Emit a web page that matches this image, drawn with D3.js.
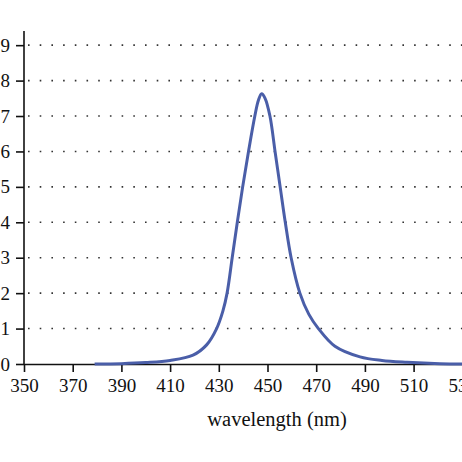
<!DOCTYPE html>
<html>
<head>
<meta charset="utf-8">
<script src="https://cdn.jsdelivr.net/npm/d3@7"></script>
<style>
  body { margin: 0; background: #fff; }
  svg { display: block; }
</style>
</head>
<body>
<div id="viz"></div>
<script>
// spectrum (wavelength in nm, relative intensity)
var wavelength = [379, 390, 400, 410, 419.4, 425, 429.1, 431.7, 433.4, 435.5, 437.6, 439.8, 442.2, 444.8, 446.3, 447.6,
                  449, 451, 453.1, 455.2, 457.3, 459.7, 463.3, 467, 470.9, 477.7, 488, 497, 507.3, 520.8, 531];
var intensity  = [0, 0.001, 0.004, 0.01, 0.025, 0.054, 0.10, 0.15, 0.2, 0.3, 0.4, 0.5, 0.6, 0.7, 0.745, 0.763,
                  0.75, 0.7, 0.6, 0.5, 0.4, 0.3, 0.2, 0.14, 0.1, 0.05, 0.02, 0.01, 0.005, 0.001, 0];

var xTicks = [350, 370, 390, 410, 430, 450, 470, 490, 510, 530];
var yTicks = [0, 0.1, 0.2, 0.3, 0.4, 0.5, 0.6, 0.7, 0.8, 0.9];
var xLabel = 'wavelength (nm)';

var width = 462, height = 462;

var svg = d3.select('#viz').append('svg')
  .attr('width', width)
  .attr('height', height);

// scales
var x = d3.scaleLinear().domain([350, 530]).range([24, 462.3]);
var y = d3.scaleLinear().domain([0, 0.94]).range([364, 31]);

// dotted grid lines
svg.append('g')
  .selectAll('line')
  .data(yTicks.slice(1))
  .enter().append('line')
  .attr('x1', x(350) + 4)
  .attr('x2', width)
  .attr('y1', function(d) { return y(d); })
  .attr('y2', function(d) { return y(d); })
  .attr('stroke', '#333')
  .attr('stroke-width', 1.6)
  .attr('stroke-dasharray', '1.6,10.1');

var font = '"Liberation Serif", "DejaVu Serif", serif';

// y axis
var yAxis = svg.append('g')
  .attr('transform', 'translate(' + x(350) + ',0)')
  .call(d3.axisLeft(y).tickValues(yTicks).tickSize(8).tickPadding(6).tickSizeOuter(0)
    .tickFormat(d3.format('.1f')));

// x axis
var xAxis = svg.append('g')
  .attr('transform', 'translate(0,' + y(0) + ')')
  .call(d3.axisBottom(x).tickValues(xTicks).tickSize(8).tickPadding(7).tickSizeOuter(0));

[yAxis, xAxis].forEach(function(a) {
  a.select('.domain').attr('stroke', '#111').attr('stroke-width', 1.6);
  a.selectAll('.tick line').attr('stroke', '#111').attr('stroke-width', 1.6);
  a.selectAll('.tick text')
    .attr('fill', '#111')
    .style('font-family', font)
    .style('font-size', '19px');
});
yAxis.select('.domain').attr('d', 'M0,' + y(0.94) + 'V' + y(0));

// axis title
svg.append('text')
  .attr('x', 277)
  .attr('y', 426)
  .attr('text-anchor', 'middle')
  .attr('fill', '#111')
  .style('font-family', font)
  .style('font-size', '20.5px')
  .text(xLabel);

// spectrum line
var line = d3.line()
  .x(function(d, i) { return x(wavelength[i]); })
  .y(function(d, i) { return y(intensity[i]); })
  .curve(d3.curveCatmullRom.alpha(0.5));

svg.append('path')
  .datum(intensity)
  .attr('d', line)
  .attr('fill', 'none')
  .attr('stroke', '#4a5ea8')
  .attr('stroke-width', 3);
</script>
</body>
</html>
